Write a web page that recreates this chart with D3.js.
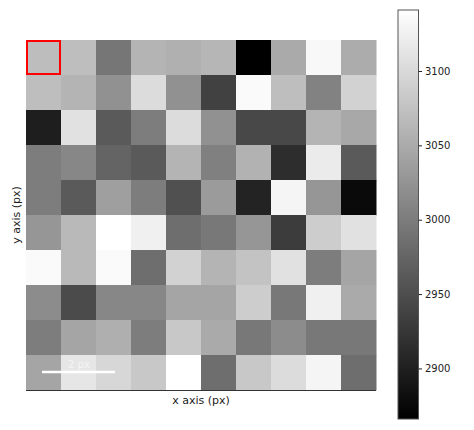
<!DOCTYPE html>
<html>
<head>
<meta charset="utf-8">
<script src="https://cdn.jsdelivr.net/npm/d3@7"></script>
<style>
  body { margin: 0; background: #fff; }
  svg text { font-family: "DejaVu Sans", sans-serif; }
</style>
</head>
<body>
<div id="chart"></div>
<script>
const width = 474
const height = 430

// pixel grid (columns / rows) and pixel values
const cols = [0, 1, 2, 3, 4, 5, 6, 7, 8, 9]
const rows = [0, 1, 2, 3, 4, 5, 6, 7, 8, 9]
const values = [
  [3070, 3071, 2993, 3060, 3056, 3062, 2866, 3049, 3133, 3051],
  [3071, 3060, 3022, 3103, 3022, 2936, 3136, 3071, 3006, 3092],
  [2898, 3109, 2963, 3001, 3103, 3022, 2944, 2944, 3060, 3047],
  [3001, 3012, 2974, 2963, 3060, 3004, 3058, 2915, 3119, 2963],
  [3001, 2963, 3038, 3001, 2952, 3033, 2904, 3130, 3028, 2877],
  [3028, 3065, 3141, 3125, 2985, 2995, 3028, 2931, 3087, 3109],
  [3136, 3065, 3136, 2985, 3092, 3060, 3076, 3109, 3001, 3044],
  [3017, 2947, 3012, 3012, 3044, 3044, 3087, 2995, 3125, 3049],
  [3001, 3044, 3055, 3001, 3082, 3049, 2995, 3017, 2995, 2995],
  [3044, 3114, 3098, 3082, 3141, 2985, 3082, 3103, 3130, 2985]
]
const cbTicks = [2900, 2950, 3000, 3050, 3100]
const highlight = [0, 0]  // [col, row]
const scaleBarPx = 2

const plot = {left: 26, top: 40, size: 350}

const svg = d3.select("#chart")
              .append("svg")
              .attr("width", width)
              .attr("height", height)

const x = d3.scaleBand().domain(cols).range([plot.left, plot.left + plot.size])
const y = d3.scaleBand().domain(rows).range([plot.top, plot.top + plot.size])

const flat = values.flat()
const extent = d3.extent(flat)
const color = d3.scaleLinear().domain(extent).range(["#000000", "#ffffff"])

// heatmap cells
const cells = []
values.forEach((r, ri) => r.forEach((v, ci) => cells.push({r: ri, c: ci, v: v})))

svg.append("g")
   .selectAll("rect")
   .data(cells)
   .enter()
   .append("rect")
   .attr("x", d => x(d.c))
   .attr("y", d => y(d.r))
   .attr("width", x.bandwidth() + 0.5)
   .attr("height", y.bandwidth() + 0.5)
   .attr("fill", d => color(d.v))

// highlighted pixel
svg.append("rect")
   .attr("x", x(highlight[0]) + 1)
   .attr("y", y(highlight[1]) + 1)
   .attr("width", x.bandwidth() - 2)
   .attr("height", y.bandwidth() - 2)
   .attr("fill", "none")
   .attr("stroke", "#ff0000")
   .attr("stroke-width", 2)

// bottom spine
svg.append("line")
   .attr("x1", plot.left)
   .attr("x2", plot.left + plot.size)
   .attr("y1", plot.top + plot.size + 0.5)
   .attr("y2", plot.top + plot.size + 0.5)
   .attr("stroke", "#333")
   .attr("stroke-width", 1.2)

// scale bar
const sbX = plot.left + 16
const sbY = plot.top + plot.size - 18
svg.append("line")
   .attr("x1", sbX)
   .attr("x2", sbX + x.bandwidth() * scaleBarPx + 3)
   .attr("y1", sbY)
   .attr("y2", sbY)
   .attr("stroke", "#fff")
   .attr("stroke-width", 2.5)

svg.append("text")
   .attr("x", sbX + x.bandwidth() * scaleBarPx / 2 + 2)
   .attr("y", sbY - 4)
   .attr("text-anchor", "middle")
   .attr("font-size", 10)
   .attr("fill", "#fff")
   .attr("fill-opacity", 0.6)
   .text(scaleBarPx + " px")

// axis labels
svg.append("text")
   .attr("x", plot.left + plot.size / 2)
   .attr("y", plot.top + plot.size + 14)
   .attr("text-anchor", "middle")
   .attr("font-size", 11)
   .attr("fill", "#222")
   .text("x axis (px)")

svg.append("text")
   .attr("transform", `translate(${plot.left - 6}, ${plot.top + plot.size / 2}) rotate(-90)`)
   .attr("text-anchor", "middle")
   .attr("font-size", 11)
   .attr("fill", "#222")
   .text("y axis (px)")

//Colorbar
const cb = {left: 398, top: 10, width: 20.5, height: 409}
const cbScale = d3.scaleLinear().domain(extent).range([cb.top + cb.height, cb.top])

const defs = svg.append("defs")
const grad = defs.append("linearGradient")
                 .attr("id", "cbgrad")
                 .attr("x1", 0).attr("y1", 1)
                 .attr("x2", 0).attr("y2", 0)
grad.append("stop").attr("offset", "0%").attr("stop-color", color(extent[0]))
grad.append("stop").attr("offset", "100%").attr("stop-color", color(extent[1]))

svg.append("rect")
   .attr("x", cb.left)
   .attr("y", cb.top)
   .attr("width", cb.width)
   .attr("height", cb.height)
   .attr("fill", "url(#cbgrad)")
   .attr("stroke", "#555")
   .attr("stroke-width", 1)

const cbAxis = svg.append("g")
   .attr("transform", `translate(${cb.left + cb.width}, 0)`)
   .call(d3.axisRight(cbScale).tickValues(cbTicks).tickFormat(d3.format("d")).tickSize(3.5).tickPadding(3))

cbAxis.select(".domain").remove()
cbAxis.selectAll("text").attr("font-size", 10).attr("fill", "#222").style("font-family", "DejaVu Sans")
cbAxis.selectAll("line").attr("stroke", "#222")
</script>
</body>
</html>
